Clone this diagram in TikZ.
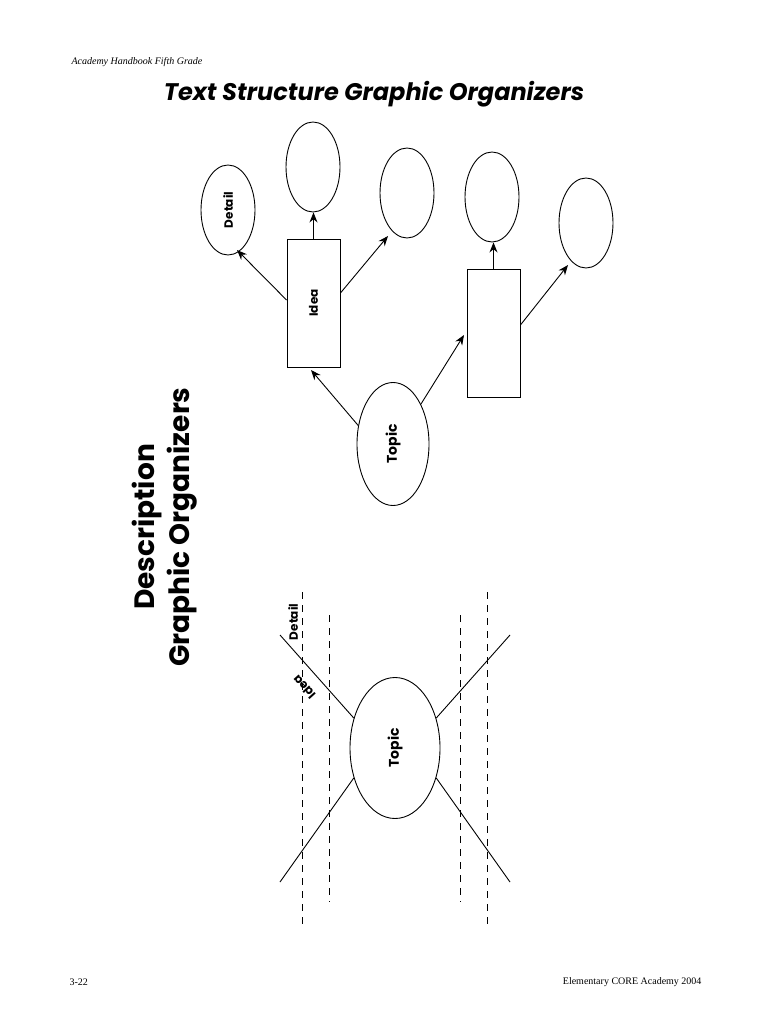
\documentclass[tikz,border=0pt]{standalone}
\usepackage{fontspec}
\setmainfont{Liberation Serif}
\newfontfamily\geo{Poppins}
\usetikzlibrary{shapes.geometric,arrows.meta}
\begin{document}
\begin{tikzpicture}[x=1pt,y=-1pt,
  ell/.style={draw,line width=0.9pt,ellipse,minimum width=54pt,minimum height=90pt,inner sep=0pt},
  box/.style={draw,line width=0.9pt,minimum width=53pt,minimum height=128pt,inner sep=0pt},
  arr/.style={line width=0.9pt,-{Stealth[length=10pt,width=8pt]}},
  lbl/.style={font=\geo\bfseries\fontsize{12}{12}\selectfont,rotate=90},
  dl/.style={line width=0.8pt,dash pattern=on 7pt off 6pt},
  ln/.style={line width=0.9pt}]
\useasboundingbox (0,0) rectangle (768,1024);
\node[anchor=west,font=\itshape\fontsize{10}{10}\selectfont] (hdr) at (68,62) {Academy Handbook Fifth Grade};
\node[font=\geo\bfseries\itshape\fontsize{24}{24}\selectfont] (ttl) at (374,94) {Text Structure Graphic Organizers};
\node[anchor=west,font=\fontsize{10}{10}\selectfont] (pg) at (66,982) {3-22};
\node[anchor=east,font=\fontsize{10}{10}\selectfont] (ft) at (705,982) {Elementary CORE Academy 2004};
\node[rotate=90,font=\geo\bfseries\fontsize{28}{28}\selectfont] (d1) at (147,527) {Description};
\node[rotate=90,font=\geo\bfseries\fontsize{28}{28}\selectfont] (d2) at (182,527) {Graphic Organizers};
% top diagram
\node[ell] (e1) at (228,210) {};
\node[lbl] at (e1) {Detail};
\node[ell] (e2) at (313,167) {};
\node[ell] (e3) at (407,193) {};
\node[ell] (e4) at (492,197) {};
\node[ell] (e5) at (586,223) {};
\node[box] (b1) at (313.5,303) {};
\node[lbl] at (b1) {Idea};
\node[box] (b2) at (493.5,333.5) {};
\node[ell,minimum width=72pt,minimum height=123pt] (t1) at (393,444) {};
\node[lbl,font=\geo\bfseries\fontsize{14}{14}\selectfont] at (t1) {Topic};
\draw[arr] (b1.west |- 0,300) -- (237,250);
\draw[arr] (b1.north) -- (b1.north |- e2.south);
\draw[arr] (b1.east |- 0,293) -- (388,236);
\draw[arr] (t1.152) -- (311,370);
\draw[arr] (t1.55) -- (464,335);
\draw[arr] (b2.north) -- (b2.north |- e4.south);
\draw[arr] (b2.east |- 0,325) -- (568,265);
% bottom diagram
\node[ell,minimum width=90pt,minimum height=141pt] (t2) at (395,748) {};
\node[lbl,font=\geo\bfseries\fontsize{14}{14}\selectfont] at (t2) {Topic};
\coordinate (p1) at (280,635); \coordinate (p2) at (510,635);
\coordinate (p3) at (280,882); \coordinate (p4) at (510,882);
\draw[ln] (p1) -- (t2.144);
\draw[ln] (p2) -- (t2.36);
\draw[ln] (p3) -- (t2.216);
\draw[ln] (p4) -- (t2.-36);
\coordinate (a1) at (302,592); \coordinate (a2) at (302,925);
\coordinate (b1t) at (329,615); \coordinate (b1b) at (329,902);
\coordinate (c1) at (460,615); \coordinate (c2) at (460,902);
\coordinate (d1t) at (487,592); \coordinate (d2b) at (487,925);
\draw[dl] (a1) -- (a2);
\draw[dl] (b1t) -- (b1b);
\draw[dl] (c1) -- (c2);
\draw[dl] (d1t) -- (d2b);
\node[lbl] (dt) at (293,622) {Detail};
\node[font=\geo\bfseries\fontsize{12}{12}\selectfont,rotate=132,inner sep=0pt] (id) at (304,687) {Idea};
\end{tikzpicture}
\end{document}
